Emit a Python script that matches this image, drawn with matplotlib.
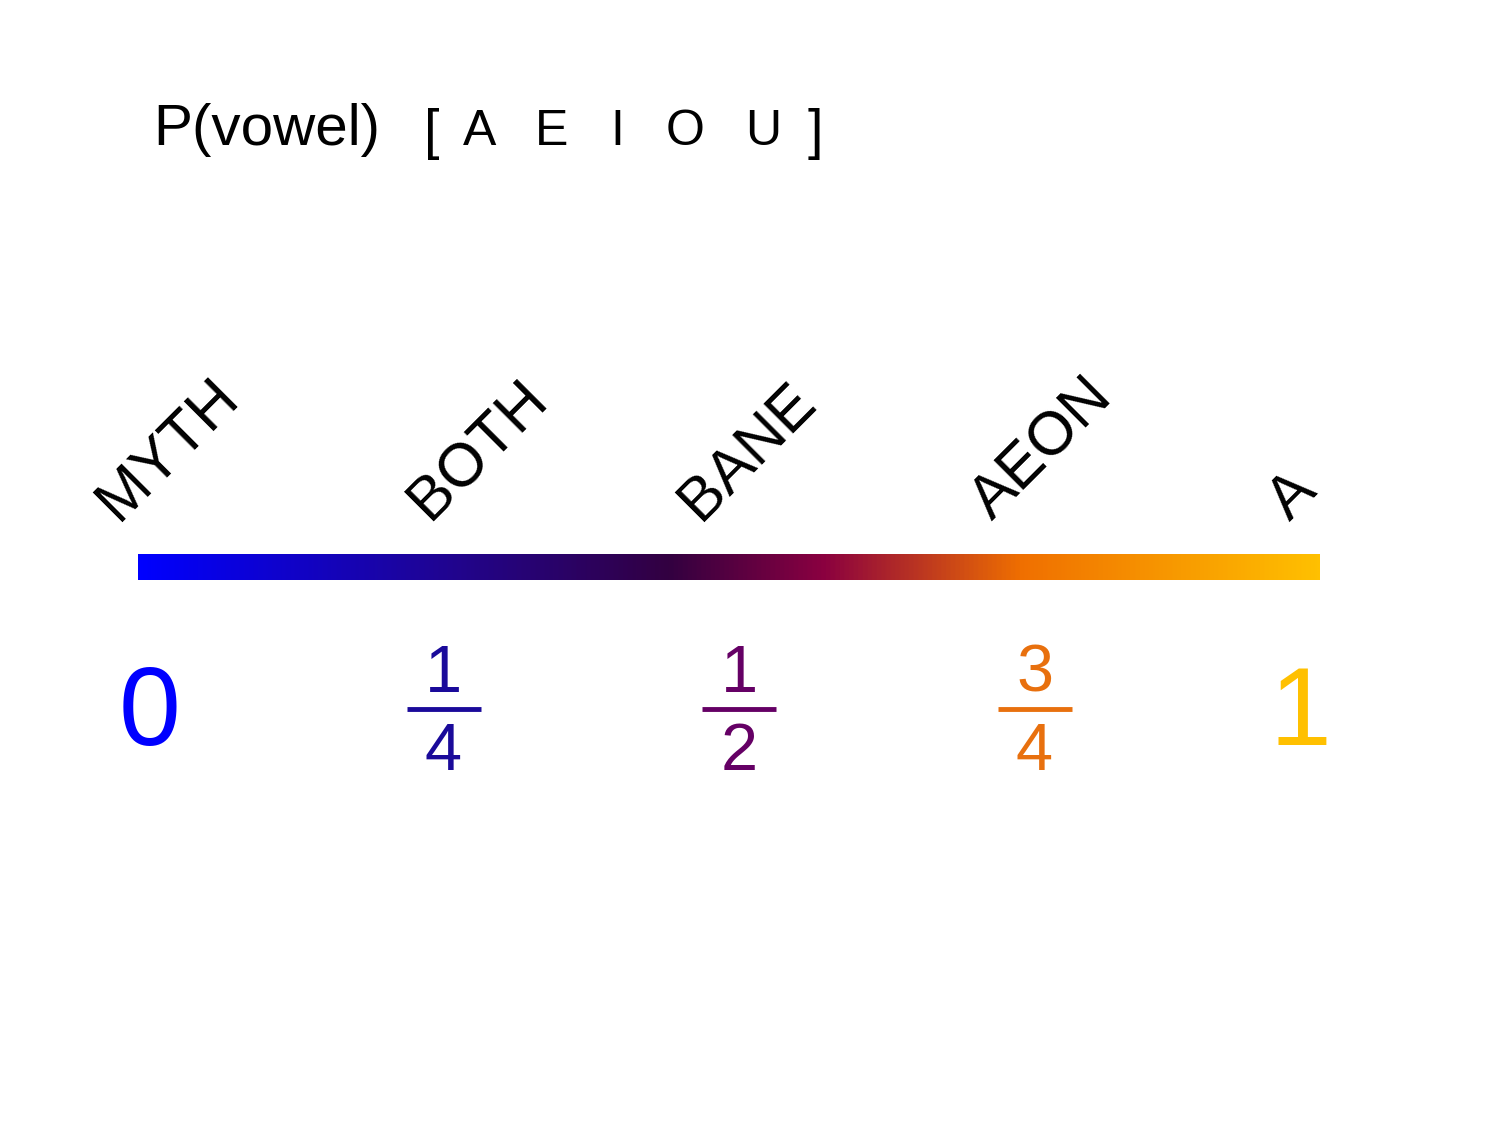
import matplotlib.pyplot as plt
import numpy as np
from matplotlib.colors import LinearSegmentedColormap

plt.rcParams['font.family'] = ['Liberation Sans', 'DejaVu Sans']

# data
words = ['MYTH', 'BOTH', 'BANE', 'AEON', 'A']
probs = [0, 0.25, 0.5, 0.75, 1]
nums = ['0', '1', '1', '3', '1']
dens = [None, '4', '2', '4', None]
colors = ['#0000ff', '#1a0a9a', '#650065', '#e8700e', '#ffc000']
vowels = ['A', 'E', 'I', 'O', 'U']

cmap = LinearSegmentedColormap.from_list('v', [
    (0.0, '#0000ff'), (0.25, '#1f0595'), (0.45, '#330040'),
    (0.58, '#8a0040'), (0.75, '#f07000'), (1.0, '#ffc000')])

fig = plt.figure(figsize=(15, 11.25), dpi=100)
ax = fig.add_axes([0, 0, 1, 1])
ax.set_xlim(0, 1500)
ax.set_ylim(1125, 0)
ax.axis('off')

x0, x1 = 138, 1320
def px(p):
    return x0 + p * (x1 - x0)

grad = np.linspace(0, 1, 512).reshape(1, -1)
ax.imshow(grad, cmap=cmap, aspect='auto', extent=[x0, x1, 580, 554])

ax.text(153, 145, 'P(vowel)', fontsize=42, ha='left', va='baseline')
ax.text(432, 148, '[', fontsize=40, ha='center', va='baseline')
ax.text(815, 148, ']', fontsize=40, ha='center', va='baseline')
for v, x in zip(vowels, [480, 552, 617, 685, 763]):
    ax.text(x, 145, v, fontsize=36, ha='center', va='baseline')

word_x = [118, 430, 700, 993, 1290]
for w, x in zip(words, word_x):
    ax.text(x, 522, w, fontsize=44, rotation=45, rotation_mode='anchor',
            ha='left', va='baseline')

for p, n, d, c in zip(probs, nums, dens, colors):
    x = px(p) + (12 if p == 0 else 0) - (20 if p == 1 else 0) + (10 if 0 < p < 1 else 0)
    if d is None:
        ax.text(x, 745, n, fontsize=80, color=c, ha='center', va='baseline')
    else:
        ax.text(x, 692, n, fontsize=48, color=c, ha='center', va='baseline')
        ax.plot([x - 37, x + 37], [709, 709], color=c, lw=3.5, solid_capstyle='butt')
        ax.text(x, 770, d, fontsize=48, color=c, ha='center', va='baseline')

plt.savefig('out.png')
